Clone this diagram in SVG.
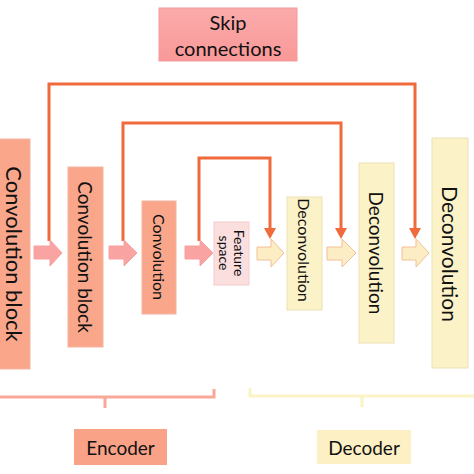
<svg xmlns="http://www.w3.org/2000/svg" width="474" height="474" viewBox="0 0 474 474">
<defs>
<style>
.enc{fill:#f9a68b;stroke:#f4b4a0;stroke-width:1}
.dec{fill:#fcf2c8;stroke:#ece2b4;stroke-width:1}
.feat{fill:#fbdfdf;stroke:#f4cccc;stroke-width:1}
.earr{fill:#f9a3a3;stroke:#f7a0a0;stroke-width:1}
.darr{fill:#fdedc4;stroke:#f2bf98;stroke-width:1}
.skip{fill:none;stroke:#f06a3c;stroke-width:3}
.t{font-family:Lato,"Liberation Sans",sans-serif;fill:#111;text-anchor:middle;dominant-baseline:central}
</style>
<linearGradient id="gSkip" x1="0" y1="0" x2="0" y2="1">
<stop offset="0" stop-color="#fbabab"/>
<stop offset="1" stop-color="#f99898"/>
</linearGradient>
</defs>

<g id="skip-label">
<rect x="159" y="8" width="138" height="53" fill="url(#gSkip)" stroke="#f59b9b"/>
<text class="t" x="228" y="22" font-size="20">Skip</text>
<text class="t" x="228" y="48" font-size="20">connections</text>
</g>

<g id="connectors">
<polyline class="skip" points="49,241 49,84 415,84 415,230"/>
<polyline class="skip" points="123,241 123,123 341,123 341,230"/>
<polyline class="skip" points="199,241 199,158 270,158 270,230"/>
<path d="M409,228 L421,228 L415,239 Z" fill="#f06a3c"/>
<path d="M335,228 L347,228 L341,239 Z" fill="#f06a3c"/>
<path d="M264,228 L276,228 L270,239 Z" fill="#f06a3c"/>
<polygon class="earr" points="34,246 50,246 50,240 62,253 50,266 50,259 34,259"/>
<polygon class="earr" points="109,246 124,246 124,240 137,253 124,266 124,259 109,259"/>
<polygon class="earr" points="185,246 200,246 200,240 213,253 200,266 200,259 185,259"/>
<polygon class="darr" points="257,247 271,247 271,239 284,253 271,267 271,260 257,260"/>
<polygon class="darr" points="327,247 342,247 342,239 356,253 342,267 342,260 327,260"/>
<polygon class="darr" points="402,247 416,247 416,239 429,253 416,267 416,260 402,260"/>
</g>

<g id="conv1">
<rect class="enc" x="-2" y="139" width="32" height="230"/>
<text class="t" x="14" y="254" font-size="22" transform="rotate(90 14 254)">Convolution block</text>
</g>
<g id="conv2">
<rect class="enc" x="68" y="167" width="35" height="180"/>
<text class="t" x="85.5" y="257" font-size="19" transform="rotate(90 85.5 257)">Convolution block</text>
</g>
<g id="conv3">
<rect class="enc" x="142" y="201" width="34" height="113"/>
<text class="t" x="159" y="257" font-size="16" transform="rotate(90 159 257)">Convolution</text>
</g>
<g id="feature">
<rect class="feat" x="214" y="222" width="35" height="63"/>
<text class="t" x="239" y="253" font-size="14" transform="rotate(90 239 253)">Feature</text>
<text class="t" x="224" y="253" font-size="14" transform="rotate(90 224 253)">space</text>
</g>
<g id="deconv1">
<rect class="dec" x="287" y="197" width="35" height="113"/>
<text class="t" x="304.5" y="250" font-size="16" transform="rotate(90 304.5 250)">Deconvolution</text>
</g>
<g id="deconv2">
<rect class="dec" x="359" y="163" width="35" height="180"/>
<text class="t" x="376.5" y="253" font-size="19" transform="rotate(90 376.5 253)">Deconvolution</text>
</g>
<g id="deconv3">
<rect class="dec" x="432" y="138" width="36" height="230"/>
<text class="t" x="450" y="254" font-size="21" transform="rotate(90 450 254)">Deconvolution</text>
</g>

<g id="encoder-bracket">
<path d="M0,397 L214,397 L214,389 M105,397 L105,408" fill="none" stroke="#f8a898" stroke-width="3"/>
</g>
<g id="decoder-bracket">
<path d="M250,388 L250,396 L474,396 M362,396 L362,407" fill="none" stroke="#f9f3c6" stroke-width="3"/>
</g>

<g id="encoder-label">
<rect x="74" y="429" width="93" height="36" fill="#f9a288"/>
<text class="t" x="120.5" y="447" font-size="19">Encoder</text>
</g>
<g id="decoder-label">
<rect x="317" y="430" width="94" height="34" fill="#fdf0c4"/>
<text class="t" x="364" y="447" font-size="19">Decoder</text>
</g>
</svg>
